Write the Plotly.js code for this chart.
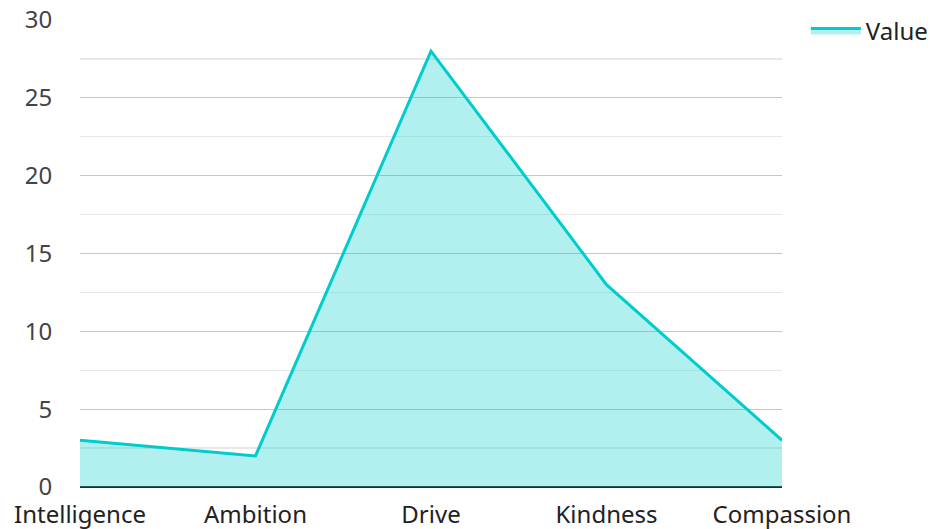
<!DOCTYPE html>
<html>
<head>
<meta charset="utf-8">
<script src="https://cdn.plot.ly/plotly-3.0.1.min.js"></script>
<style>html,body{margin:0;padding:0;background:#fff;}#chart{width:931px;height:529px;}</style>
</head>
<body>
<div id="chart"></div>
<script>
const categories = ["Intelligence", "Ambition", "Drive", "Kindness", "Compassion"];
const values = [3, 2, 28, 13, 3];
const yTicks = [0, 5, 10, 15, 20, 25, 30];

const trace = {
  x: categories,
  y: values,
  type: "scatter",
  mode: "lines",
  name: "Value",
  fill: "tozeroy",
  fillcolor: "rgba(0,204,204,0.3)",
  line: {color: "#00cccc", width: 3}
};

const layout = {
  width: 931,
  height: 529,
  margin: {l: 80, r: 149, t: 20, b: 42, autoexpand: false},
  paper_bgcolor: "#fff",
  plot_bgcolor: "#fff",
  font: {family: "Noto Sans, Open Sans, sans-serif", size: 24, color: "#333"},
  xaxis: {
    type: "category",
    range: [0, 4],
    showgrid: false,
    zeroline: false,
    showline: false,
    ticks: "outside",
    ticklen: 6,
    tickcolor: "rgba(0,0,0,0)",
    tickfont: {size: 24, color: "#222"},
    fixedrange: true
  },
  yaxis: {
    range: [0, 30],
    tickvals: yTicks,
    ticktext: yTicks.map(String),
    showgrid: true,
    gridcolor: "#c6c6c6",
    gridwidth: 1.3,
    zeroline: true,
    zerolinecolor: "#2a2a2a",
    zerolinewidth: 2,
    ticks: "outside",
    ticklen: 22,
    tickcolor: "rgba(0,0,0,0)",
    tickfont: {size: 24, color: "#444"},
    minor: {dtick: 2.5, tick0: 0, showgrid: true, gridcolor: "#e8e8e8", gridwidth: 1.3, ticks: ""},
    fixedrange: true
  },
  showlegend: true,
  legend: {
    x: 1.034, y: 1.025, xanchor: "left", yanchor: "top",
    itemwidth: 50,
    font: {size: 24, color: "#222"},
    bgcolor: "rgba(0,0,0,0)"
  }
};

Plotly.newPlot("chart", [trace], layout, {displayModeBar: false, staticPlot: true});
</script>
</body>
</html>
